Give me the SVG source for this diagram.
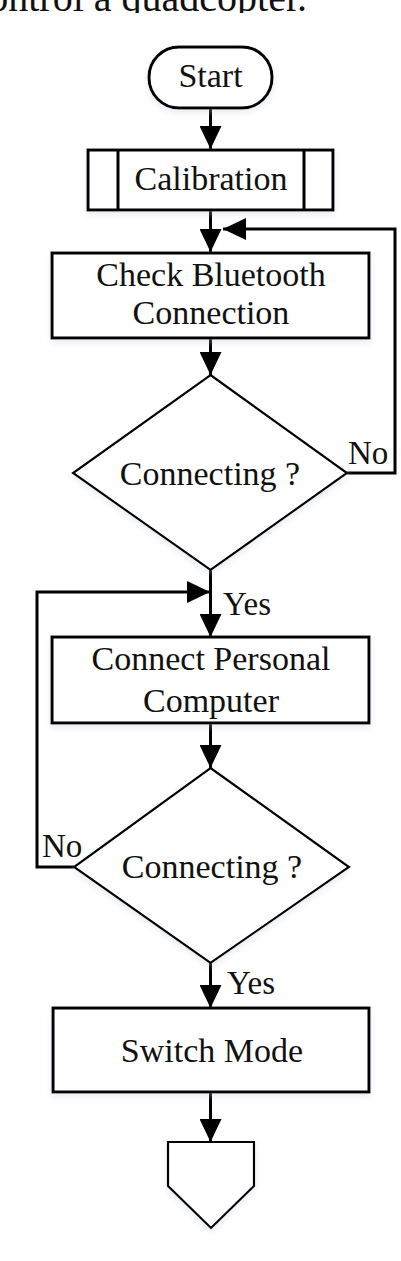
<svg xmlns="http://www.w3.org/2000/svg" width="401" height="1261" viewBox="0 0 401 1261">
<style>
.box{fill:#fff;stroke:#000;stroke-width:3}
.dia{fill:#fff;stroke:#000;stroke-width:2.2}
.t{font-family:"Liberation Serif","Times New Roman",serif;font-size:34px;fill:#111;text-anchor:middle}
.lbl{font-family:"Liberation Serif","Times New Roman",serif;font-size:33px;fill:#111}
.c{fill:none;stroke:#000;stroke-width:3}
</style>
<defs>
<marker id="ah" markerUnits="userSpaceOnUse" markerWidth="24" markerHeight="22" refX="23" refY="11" orient="auto">
<path d="M0,0 L23,11 L0,22 Z" fill="#000"/>
</marker>
<filter id="sh" x="-10%" y="-10%" width="120%" height="130%">
<feDropShadow dx="0" dy="3" stdDeviation="3" flood-color="#b8c4d6" flood-opacity="0.35"/>
</filter>
<clipPath id="capclip"><rect x="0" y="0" width="401" height="13"/></clipPath>
</defs>
<rect width="401" height="1261" fill="#fff"/>
<g id="caption" clip-path="url(#capclip)">
<text x="307" y="11" font-family="Liberation Serif,serif" font-size="40" text-anchor="end" fill="#111">control a quadcopter.</text>
</g>
<g id="connectors">
<line class="c" x1="210.5" y1="108" x2="210.5" y2="149" marker-end="url(#ah)"/>
<line class="c" x1="210.5" y1="210" x2="210.5" y2="252" marker-end="url(#ah)"/>
<polyline class="c" points="347,473 395,473 395,229 223,229" marker-end="url(#ah)"/>
<line class="c" x1="210.5" y1="338" x2="210.5" y2="375" marker-end="url(#ah)"/>
<line class="c" x1="210.5" y1="570" x2="210.5" y2="637" marker-end="url(#ah)"/>
<polyline class="c" points="74,867 37,867 37,592 210,592" marker-end="url(#ah)"/>
<line class="c" x1="210.5" y1="723" x2="210.5" y2="768" marker-end="url(#ah)"/>
<line class="c" x1="210.5" y1="963" x2="210.5" y2="1008" marker-end="url(#ah)"/>
<line class="c" x1="210.5" y1="1092" x2="210.5" y2="1142" marker-end="url(#ah)"/>
<text class="lbl" x="348" y="464">No</text>
<text class="lbl" x="223" y="615">Yes</text>
<text class="lbl" x="42" y="857">No</text>
<text class="lbl" x="227" y="994">Yes</text>
</g>
<g id="start">
<rect class="box" x="149" y="47" width="123" height="61" rx="30" filter="url(#sh)"/>
<text class="t" x="210.5" y="87">Start</text>
</g>
<g id="calibration">
<rect class="box" x="88" y="150" width="245" height="60" filter="url(#sh)"/>
<line class="c" x1="118" y1="150" x2="118" y2="210"/>
<line class="c" x1="304" y1="150" x2="304" y2="210"/>
<text class="t" x="211" y="190">Calibration</text>
</g>
<g id="check-bluetooth">
<rect class="box" x="52" y="253" width="317" height="85" filter="url(#sh)"/>
<text class="t" x="211" y="286" font-size="35">Check Bluetooth</text>
<text class="t" x="211" y="324" font-size="35">Connection</text>
</g>
<g id="decision1">
<polygon class="dia" points="210.5,375 347,473 210.5,570 73,473" filter="url(#sh)"/>
<text class="t" x="210" y="485">Connecting ?</text>
</g>
<g id="connect-pc">
<rect class="box" x="52" y="637" width="317" height="86" filter="url(#sh)"/>
<text class="t" x="211" y="670" font-size="35">Connect Personal</text>
<text class="t" x="211" y="712" font-size="35">Computer</text>
</g>
<g id="decision2">
<polygon class="dia" points="210.5,768 349,867 210.5,963 74,867" filter="url(#sh)"/>
<text class="t" x="212" y="878">Connecting ?</text>
</g>
<g id="switch-mode">
<rect class="box" x="53" y="1008" width="316" height="84" filter="url(#sh)"/>
<text class="t" x="212" y="1062">Switch Mode</text>
</g>
<g id="offpage">
<polygon class="dia" points="168,1142 254,1142 254,1186 211,1228 168,1186" stroke-width="2.5" filter="url(#sh)"/>
</g>
</svg>
